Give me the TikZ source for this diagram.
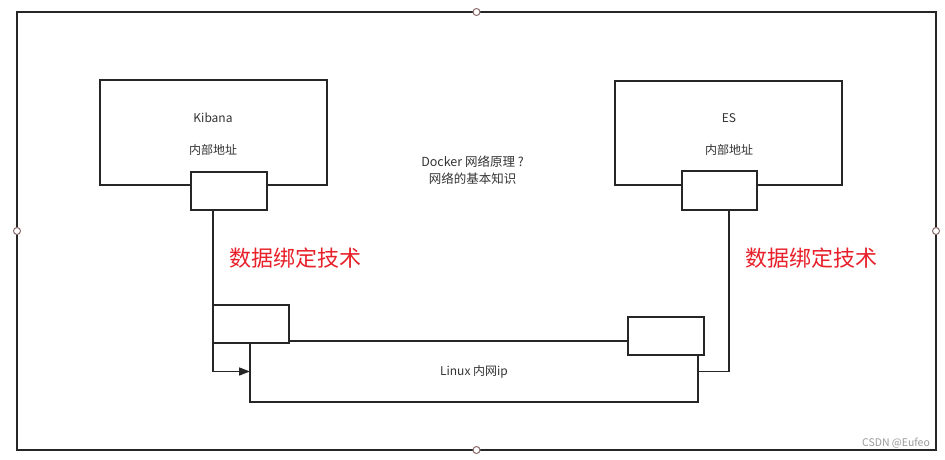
\documentclass[tikz,border=0pt]{standalone}
\usepackage{fontspec}
\setmainfont{Noto Sans CJK SC}
\usetikzlibrary{arrows.meta}
\definecolor{linec}{HTML}{262626}
\definecolor{txt}{HTML}{333333}
\definecolor{redtxt}{HTML}{E8202A}
\definecolor{handle}{HTML}{8A6A6A}
\definecolor{wmark}{HTML}{9A9A9A}
\begin{document}
\begin{tikzpicture}[x=1pt,y=-1pt,
 box/.style={draw=linec,line width=1.6pt,fill=white,inner sep=0pt,outer sep=0pt,anchor=north west},
 lbl/.style={text=txt,font=\fontsize{12}{14}\selectfont,inner sep=0pt},
 redlbl/.style={text=redtxt,font=\fontsize{22}{26}\selectfont,inner sep=0pt},
 conn/.style={draw=linec,line width=1.6pt},
 handlec/.style={circle,draw=handle,fill=white,line width=1pt,minimum size=7pt,inner sep=0pt}]
\fill[white] (0,0) rectangle (945,460);
\useasboundingbox (0,0) rectangle (945,460);
% outer frame
\node[box,fill=none,minimum width=919pt,minimum height=438pt] (outer) at (17,12) {};
% Linux box
\node[box,fill=none,minimum width=448pt,minimum height=61pt] (linux) at (250,341) {};
% big boxes
\node[box,minimum width=227pt,minimum height=105pt] (kibana) at (100,80) {};
\node[box,minimum width=227pt,minimum height=104pt] (es) at (615,81) {};
% connectors
\coordinate (kdrop) at (213,210);
\coordinate (edrop) at (729,210);
\draw[conn,-{Triangle[length=11pt,width=8pt]}] (kdrop) |- (linux.west);
\draw[conn] (edrop) |- (linux.east);
% port boxes
\node[box,minimum width=76pt,minimum height=38pt] (kport) at (191,172) {};
\node[box,minimum width=75pt,minimum height=39pt] (eport) at (682,171) {};
\node[box,minimum width=76pt,minimum height=38pt] (klow) at (213,305) {};
\node[box,minimum width=76pt,minimum height=38pt] (elow) at (628,317) {};
% texts
\node[lbl] (ktitle) at (213,118) {Kibana};
\node[lbl] (kaddr) at (213,150) {内部地址};
\node[lbl] (etitle) at (729,118) {ES};
\node[lbl] (eaddr) at (729,150) {内部地址};
\node[lbl,align=center,font=\fontsize{12.5}{16.5}\selectfont] (center) at (472.5,170) {Docker 网络原理 ?\\网络的基本知识};
\node[lbl] (linuxlbl) at (linux.center) {Linux 内网ip};
\node[redlbl] (redl) at (295,258) {数据绑定技术};
\node[redlbl] (redr) at (811,258) {数据绑定技术};
\node[text=wmark,font=\fontsize{10.5}{12}\selectfont,inner sep=0pt] (wm) at (896,443) {CSDN @Eufeo};
% handles
\node[handlec] (hn) at (outer.north) {};
\node[handlec] (hs) at (outer.south) {};
\node[handlec] (hw) at (outer.west) {};
\node[handlec] (he) at (outer.east) {};
\end{tikzpicture}
\end{document}
